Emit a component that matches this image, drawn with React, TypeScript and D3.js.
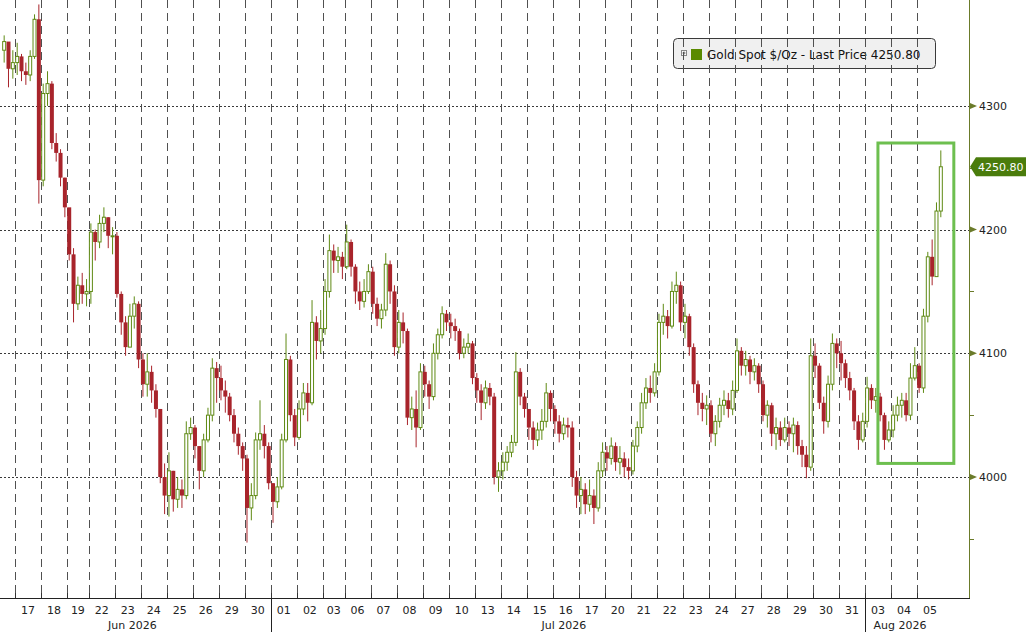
import React from "react";
import * as d3 from "d3";

// ---- day structure (Jun 16 partial .. Aug 05) ----
const dayLabels = ["16","17","18","19","22","23","24","25","26","29","30",
  "01","02","03","06","07","08","09","10","13","14","15","16","17","20","21","22","23","24","27","28","29","30","31",
  "03","04","05"];
const dayMonths = [
  "Jun 2026","Jun 2026","Jun 2026","Jun 2026","Jun 2026","Jun 2026","Jun 2026","Jun 2026","Jun 2026","Jun 2026","Jun 2026",
  "Jul 2026","Jul 2026","Jul 2026","Jul 2026","Jul 2026","Jul 2026","Jul 2026","Jul 2026","Jul 2026","Jul 2026","Jul 2026","Jul 2026",
  "Jul 2026","Jul 2026","Jul 2026","Jul 2026","Jul 2026","Jul 2026","Jul 2026","Jul 2026","Jul 2026","Jul 2026","Jul 2026",
  "Aug 2026","Aug 2026","Aug 2026"];
const barsPerDay = [3,6,6,5,6,6,6,6,6,6,6,
  6,6,5,6,6,6,6,6,6,6,6,6,6,6,6,6,6,6,6,6,6,6,6,
  6,6,6];

// ---- price bars (open = previous close) ----
const firstOpen = 4345;
const closes = [
  4352,4330,4335,
  4340,4328,4325,4340,4370,4240,
  4310,4318,4270,4262,4242,4218,
  4180,4140,4155,4148,4150,
  4198,4190,4205,4210,4195,4195,
  4148,4125,4105,4130,4140,4095,
  4075,4085,4070,4055,4000,3985,
  4005,3982,3990,3985,4035,4040,
  4025,4005,4030,4050,4088,4080,
  4070,4065,4050,4035,4025,4015,
  3975,3985,4030,4035,4025,3995,
  3980,3992,4030,4095,4050,4032,
  4055,4068,4060,4125,4110,4120,
  4150,4183,4175,4178,4170,
  4190,4170,4150,4142,4150,4166,
  4140,4128,4135,4172,4150,4105,
  4125,4118,4048,4055,4040,4085,
  4075,4065,4100,4115,4132,4125,
  4122,4118,4100,4105,4108,4080,
  4070,4060,4072,4065,4000,4005,
  4012,4020,4028,4085,4065,4055,
  4040,4030,4038,4045,4068,4055,
  4045,4035,4042,4040,4000,3985,
  3990,3978,3985,3975,4005,4020,
  4015,4025,4012,4015,4008,4005,
  4025,4040,4060,4072,4068,4085,
  4125,4130,4122,4150,4155,4125,
  4130,4105,4075,4060,4055,4058,
  4035,4045,4058,4062,4055,4070,
  4102,4090,4095,4085,4090,4075,
  4050,4058,4035,4040,4030,4040,
  4035,4042,4025,4018,4008,4098,
  4090,4060,4045,4075,4108,4100,
  4092,4080,4070,4045,4030,4045,
  4072,4062,4065,4050,4030,4038,
  4050,4058,4062,4050,4080,4090,
  4072,4130,4178,4162,4215,4250.8];
const highs = [
  4357,4350,4345,
  4351,4342,4335,4345,4374,4382,
  4318,4328,4320,4278,4265,4242,
  4215,4185,4162,4165,4160,
  4205,4200,4212,4218,4210,4202,
  4198,4150,4130,4140,4146,4142,
  4100,4100,4090,4075,4055,4011,
  4020,4005,4000,3998,4045,4048,
  4042,4025,4035,4056,4096,4093,
  4090,4078,4068,4055,4040,4028,
  4018,3995,4036,4062,4042,4028,
  3995,4000,4035,4116,4098,4055,
  4062,4076,4076,4143,4130,4135,
  4160,4196,4188,4186,4182,
  4204,4192,4172,4158,4160,4172,
  4170,4145,4140,4181,4175,4155,
  4135,4133,4120,4065,4070,4092,
  4090,4078,4108,4120,4138,4135,
  4132,4128,4120,4112,4116,4110,
  4084,4075,4078,4076,4068,4012,
  4020,4025,4034,4101,4088,4068,
  4050,4045,4044,4055,4076,4070,
  4058,4050,4048,4048,4045,4005,
  4000,3995,3998,3990,4012,4028,
  4025,4032,4028,4025,4020,4015,
  4030,4045,4068,4080,4082,4092,
  4132,4140,4135,4158,4166,4158,
  4140,4132,4108,4078,4068,4066,
  4062,4050,4064,4070,4068,4078,
  4112,4105,4102,4098,4096,4092,
  4078,4062,4060,4048,4045,4048,
  4045,4048,4045,4030,4025,4112,
  4108,4092,4065,4082,4116,4112,
  4110,4095,4085,4072,4050,4052,
  4081,4075,4072,4068,4052,4045,
  4058,4065,4068,4068,4092,4105,
  4092,4136,4182,4192,4222,4264];
const lows = [
  4335,4315,4322,
  4325,4320,4317,4320,4338,4221,
  4235,4300,4265,4255,4235,4210,
  4175,4125,4135,4140,4138,
  4140,4175,4185,4198,4185,4180,
  4145,4115,4098,4105,4120,4088,
  4065,4065,4060,4048,3995,3970,
  3968,3972,3975,3975,3982,4030,
  4015,3990,4000,4028,4045,4060,
  4062,4052,4045,4028,4018,4005,
  3947,3965,3982,4022,4015,3990,
  3963,3975,3990,4028,4045,4025,
  4030,4050,4045,4058,4095,4100,
  4115,4145,4165,4165,4160,
  4168,4162,4140,4135,4137,4148,
  4132,4122,4120,4130,4140,4098,
  4100,4108,4042,4038,4024,4038,
  4065,4055,4062,4095,4112,4118,
  4112,4110,4095,4096,4100,4075,
  4060,4046,4055,4058,3994,3988,
  3998,4005,4016,4025,4058,4048,
  4030,4022,4025,4030,4040,4045,
  4035,4028,4030,4032,3992,3975,
  3970,3970,3972,3962,3972,4000,
  4005,4010,4005,4002,4000,3998,
  4002,4020,4035,4055,4060,4065,
  4082,4115,4112,4120,4140,4118,
  4112,4098,4068,4050,4045,4042,
  4028,4025,4040,4050,4048,4050,
  4068,4082,4082,4075,4078,4068,
  4045,4040,4025,4022,4025,4028,
  4025,4020,4018,4008,3999,4005,
  4080,4055,4035,4040,4070,4088,
  4078,4072,4062,4038,4022,4028,
  4040,4055,4052,4045,4022,4028,
  4032,4045,4048,4045,4046,4078,
  4068,4068,4125,4155,4180,4210];

// ---- axis values ----
const majorTicks = [4000, 4100, 4200, 4300];
const minorTicks = [3950, 4050, 4150, 4250];
const yDomain = [3902.2, 4385.6];
const legendLabel = "Gold Spot $/Oz - Last Price";
// highlight annotation (bar-slot range, price range)
const highlightSlots = [202, 219.5];
const highlightPrices = [4011, 4270];

const W = 1026, H = 632;
const plotRight = 969, plotBottom = 598;
const GREEN = "#5f8a14", RED = "#a8242b", AXIS = "#6b7b2a";
const FONT = "'DejaVu Sans', Verdana, sans-serif";

export default function App() {
  const starts: number[] = [];
  let acc = 0;
  barsPerDay.forEach((n) => { starts.push(acc); acc += n; });
  const nBars = acc;
  const x = d3.scaleLinear().domain([-0.46, nBars + 6]).range([0, plotRight]);
  const y = d3.scaleLinear().domain(yDomain).range([plotBottom, 0]);

  const bars = closes.map((c, i) => ({
    o: i === 0 ? firstOpen : closes[i - 1], c, h: highs[i], l: lows[i], cx: x(i + 0.5),
  }));
  const last = closes[closes.length - 1];

  const months: { name: string; from: number; to: number }[] = [];
  dayMonths.forEach((m, i) => {
    const s = starts[i], e = starts[i] + barsPerDay[i];
    const g = months.find((q) => q.name === m);
    if (g) g.to = e; else months.push({ name: m, from: s, to: e });
  });

  const gridDays = dayLabels.map((_, i) => i).filter((i) => i > 0);
  const crisp = (v: number) => Math.round(v) + 0.5;

  return (
    <svg width={W} height={H} style={{ position: "absolute", left: 0, top: 0, background: "#fff" }} fontFamily={FONT}>
      <rect x={0} y={0} width={W} height={H} fill="#fff" />
      {/* legend (grid lines run through it) */}
      <g>
        <rect x={673.5} y={38.5} width={262} height={30} rx={4} fill="#f0f0f0" stroke="#3a3a3a" />
        <rect x={681.5} y={50.5} width={5} height={5} fill="#fff" stroke="#888" />
        <line x1={682.5} x2={685.5} y1={53} y2={53} stroke="#666" />
        <line x1={684} x2={684} y1={51.5} y2={54.5} stroke="#666" />
        <rect x={691} y={49} width={11} height={11} fill="#5a8a00" />
        <text x={707} y={59} fontSize={12} fill="#111">{`${legendLabel} ${last.toFixed(2)}`}</text>
      </g>
      {/* horizontal dotted grid */}
      {majorTicks.map((t) => (
        <line key={"hg" + t} x1={0} x2={plotRight} y1={crisp(y(t))} y2={crisp(y(t))}
          stroke="#3a3a3a" strokeDasharray="2,2" />
      ))}
      {/* vertical dashed day grid */}
      {gridDays.map((i) => (
        <line key={"vg" + i} x1={crisp(x(starts[i]))} x2={crisp(x(starts[i]))} y1={0} y2={plotBottom}
          stroke="#505050" strokeDasharray="8,5" />
      ))}
      {/* candles */}
      <g>
        {bars.map((b, i) => {
          const up = b.c >= b.o;
          const col = up ? GREEN : RED;
          const top = y(Math.max(b.o, b.c));
          const bh = Math.max(1, Math.abs(y(b.o) - y(b.c)));
          return (
            <g key={"b" + i}>
              <line x1={b.cx} x2={b.cx} y1={y(b.h)} y2={y(b.l)} stroke={col} strokeWidth={1} />
              {up ? (
                <rect x={b.cx - 1.5} y={top} width={3} height={bh} fill="#fff" stroke={col} strokeWidth={1} />
              ) : (
                <rect x={b.cx - 2} y={top} width={4} height={bh} fill={col} />
              )}
            </g>
          );
        })}
      </g>
      {/* highlight box */}
      <rect x={x(highlightSlots[0])} y={y(highlightPrices[1])}
        width={x(highlightSlots[1]) - x(highlightSlots[0])}
        height={y(highlightPrices[0]) - y(highlightPrices[1])}
        fill="none" stroke="#6dbf4f" strokeWidth={3} />
      {/* right axis */}
      <line x1={plotRight + 0.5} x2={plotRight + 0.5} y1={0} y2={plotBottom} stroke={AXIS} />
      {majorTicks.map((t) => (
        <g key={"mt" + t}>
          <path d={`M${plotRight + 1},${y(t) - 3} L${plotRight + 8},${y(t)} L${plotRight + 1},${y(t) + 3} Z`} fill={AXIS} />
          <text x={plotRight + 10} y={y(t) + 4} fontSize={11} fill="#222">{t}</text>
        </g>
      ))}
      {minorTicks.map((t) => (
        <line key={"mn" + t} x1={plotRight} x2={plotRight + 5} y1={crisp(y(t))} y2={crisp(y(t))} stroke={AXIS} />
      ))}
      {/* last price tag */}
      <g>
        <path d={`M${plotRight + 1},${y(last)} L${plotRight + 7},${y(last) - 9.5} L${W},${y(last) - 9.5} L${W},${y(last) + 9.5} L${plotRight + 7},${y(last) + 9.5} Z`}
          fill="#4a7c0c" />
        <text x={plotRight + 9} y={y(last) + 4} fontSize={11} fill="#fff">{last.toFixed(2)}</text>
      </g>
      {/* bottom axis */}
      <line x1={0} x2={plotRight + 1} y1={plotBottom + 0.5} y2={plotBottom + 0.5} stroke="#222" />
      {gridDays.map((i) => (
        <line key={"bt" + i} x1={crisp(x(starts[i]))} x2={crisp(x(starts[i]))} y1={plotBottom - 5} y2={plotBottom} stroke="#333" />
      ))}
      {dayLabels.map((d, i) => i === 0 ? null : (
        <text key={"dl" + i} x={x(starts[i] + barsPerDay[i] / 2)} y={614} fontSize={11} fill="#222" textAnchor="middle">{d}</text>
      ))}
      {months.map((m, k) => (
        <g key={"m" + k}>
          {k > 0 && (
            <line x1={crisp(x(m.from))} x2={crisp(x(m.from))} y1={plotBottom} y2={H} stroke="#222" />
          )}
          <text x={(Math.max(0, x(m.from)) + x(m.to)) / 2 - 4} y={629} fontSize={11} fill="#222" textAnchor="middle">{m.name}</text>
        </g>
      ))}
    </svg>
  );
}
